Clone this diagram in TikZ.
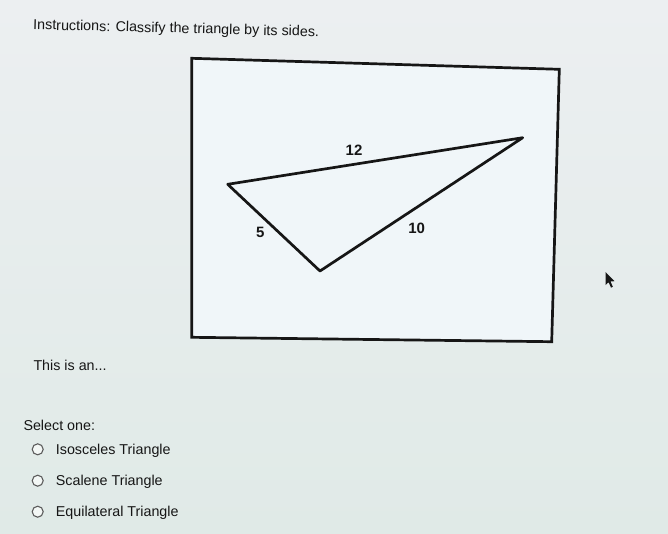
\documentclass[tikz,border=0pt]{standalone}
\usepackage{fontspec}
\setmainfont{Liberation Sans}
\definecolor{bgtop}{HTML}{ECEFF1}
\definecolor{bgbot}{HTML}{E0EAE7}
\definecolor{boxin}{HTML}{F0F6F9}
\definecolor{ink}{HTML}{161616}
\begin{document}
\begin{tikzpicture}[x=1pt,y=-1pt,
  txt/.style={anchor=base west,inner sep=0pt,text=ink,font=\fontsize{14.3}{16}\selectfont},
  lbl/.style={inner sep=0pt,text=ink,font=\fontsize{15}{17}\selectfont\bfseries},
  radio/.style={circle,draw=ink!70,line width=1.1pt,minimum size=11pt,inner sep=0pt,fill=white!60!bgbot},
  edge/.style={draw=ink,line width=2.7pt,line join=round}]
\shade[top color=bgtop,bottom color=bgbot] (0,0) rectangle (668,533);
\useasboundingbox (0,0) rectangle (668,533);
% heading
\node[txt,rotate=-1.4] (head) at (33,29.5) {Instructions: Classify the triangle by its sides.};
% picture box
\coordinate (b1) at (191.7,58.3);
\coordinate (b2) at (559.3,69.3);
\coordinate (b3) at (551.7,341.7);
\coordinate (b4) at (191.7,337.3);
\filldraw[fill=boxin,draw=ink,line width=2.7pt,line join=miter] (b1) -- (b2) -- (b3) -- (b4) -- cycle;
% triangle
\coordinate (A) at (227.7,184.3);
\coordinate (B) at (522.7,137.7);
\coordinate (C) at (320,271);
\draw[edge] (A) -- (B) -- (C) -- cycle;
\node[lbl] (l12) at (354,150) {12};
\node[lbl] (l5) at (260.3,232.7) {5};
\node[lbl] (l10) at (416.7,228.3) {10};
% mouse pointer
\fill[ink] (605.5,272) -- (605.5,285) -- (608.6,282.2) -- (611,287.6) -- (612.8,286.8) -- (610.5,281.4) -- (614.6,281.2) -- cycle;
% question text
\node[txt] (q) at (33.3,370.7) {This is an...};
\node[txt] (sel) at (23.3,430) {Select one:};
\node[radio] (r1) at (37.7,449.3) {};
\node[radio] (r2) at (37.7,480.7) {};
\node[radio] (r3) at (37.7,511.7) {};
\node[txt] (o1) at (55.7,454.3) {Isosceles Triangle};
\node[txt] (o2) at (55.7,485.3) {Scalene Triangle};
\node[txt] (o3) at (55.7,516.3) {Equilateral Triangle};
\end{tikzpicture}
\end{document}
